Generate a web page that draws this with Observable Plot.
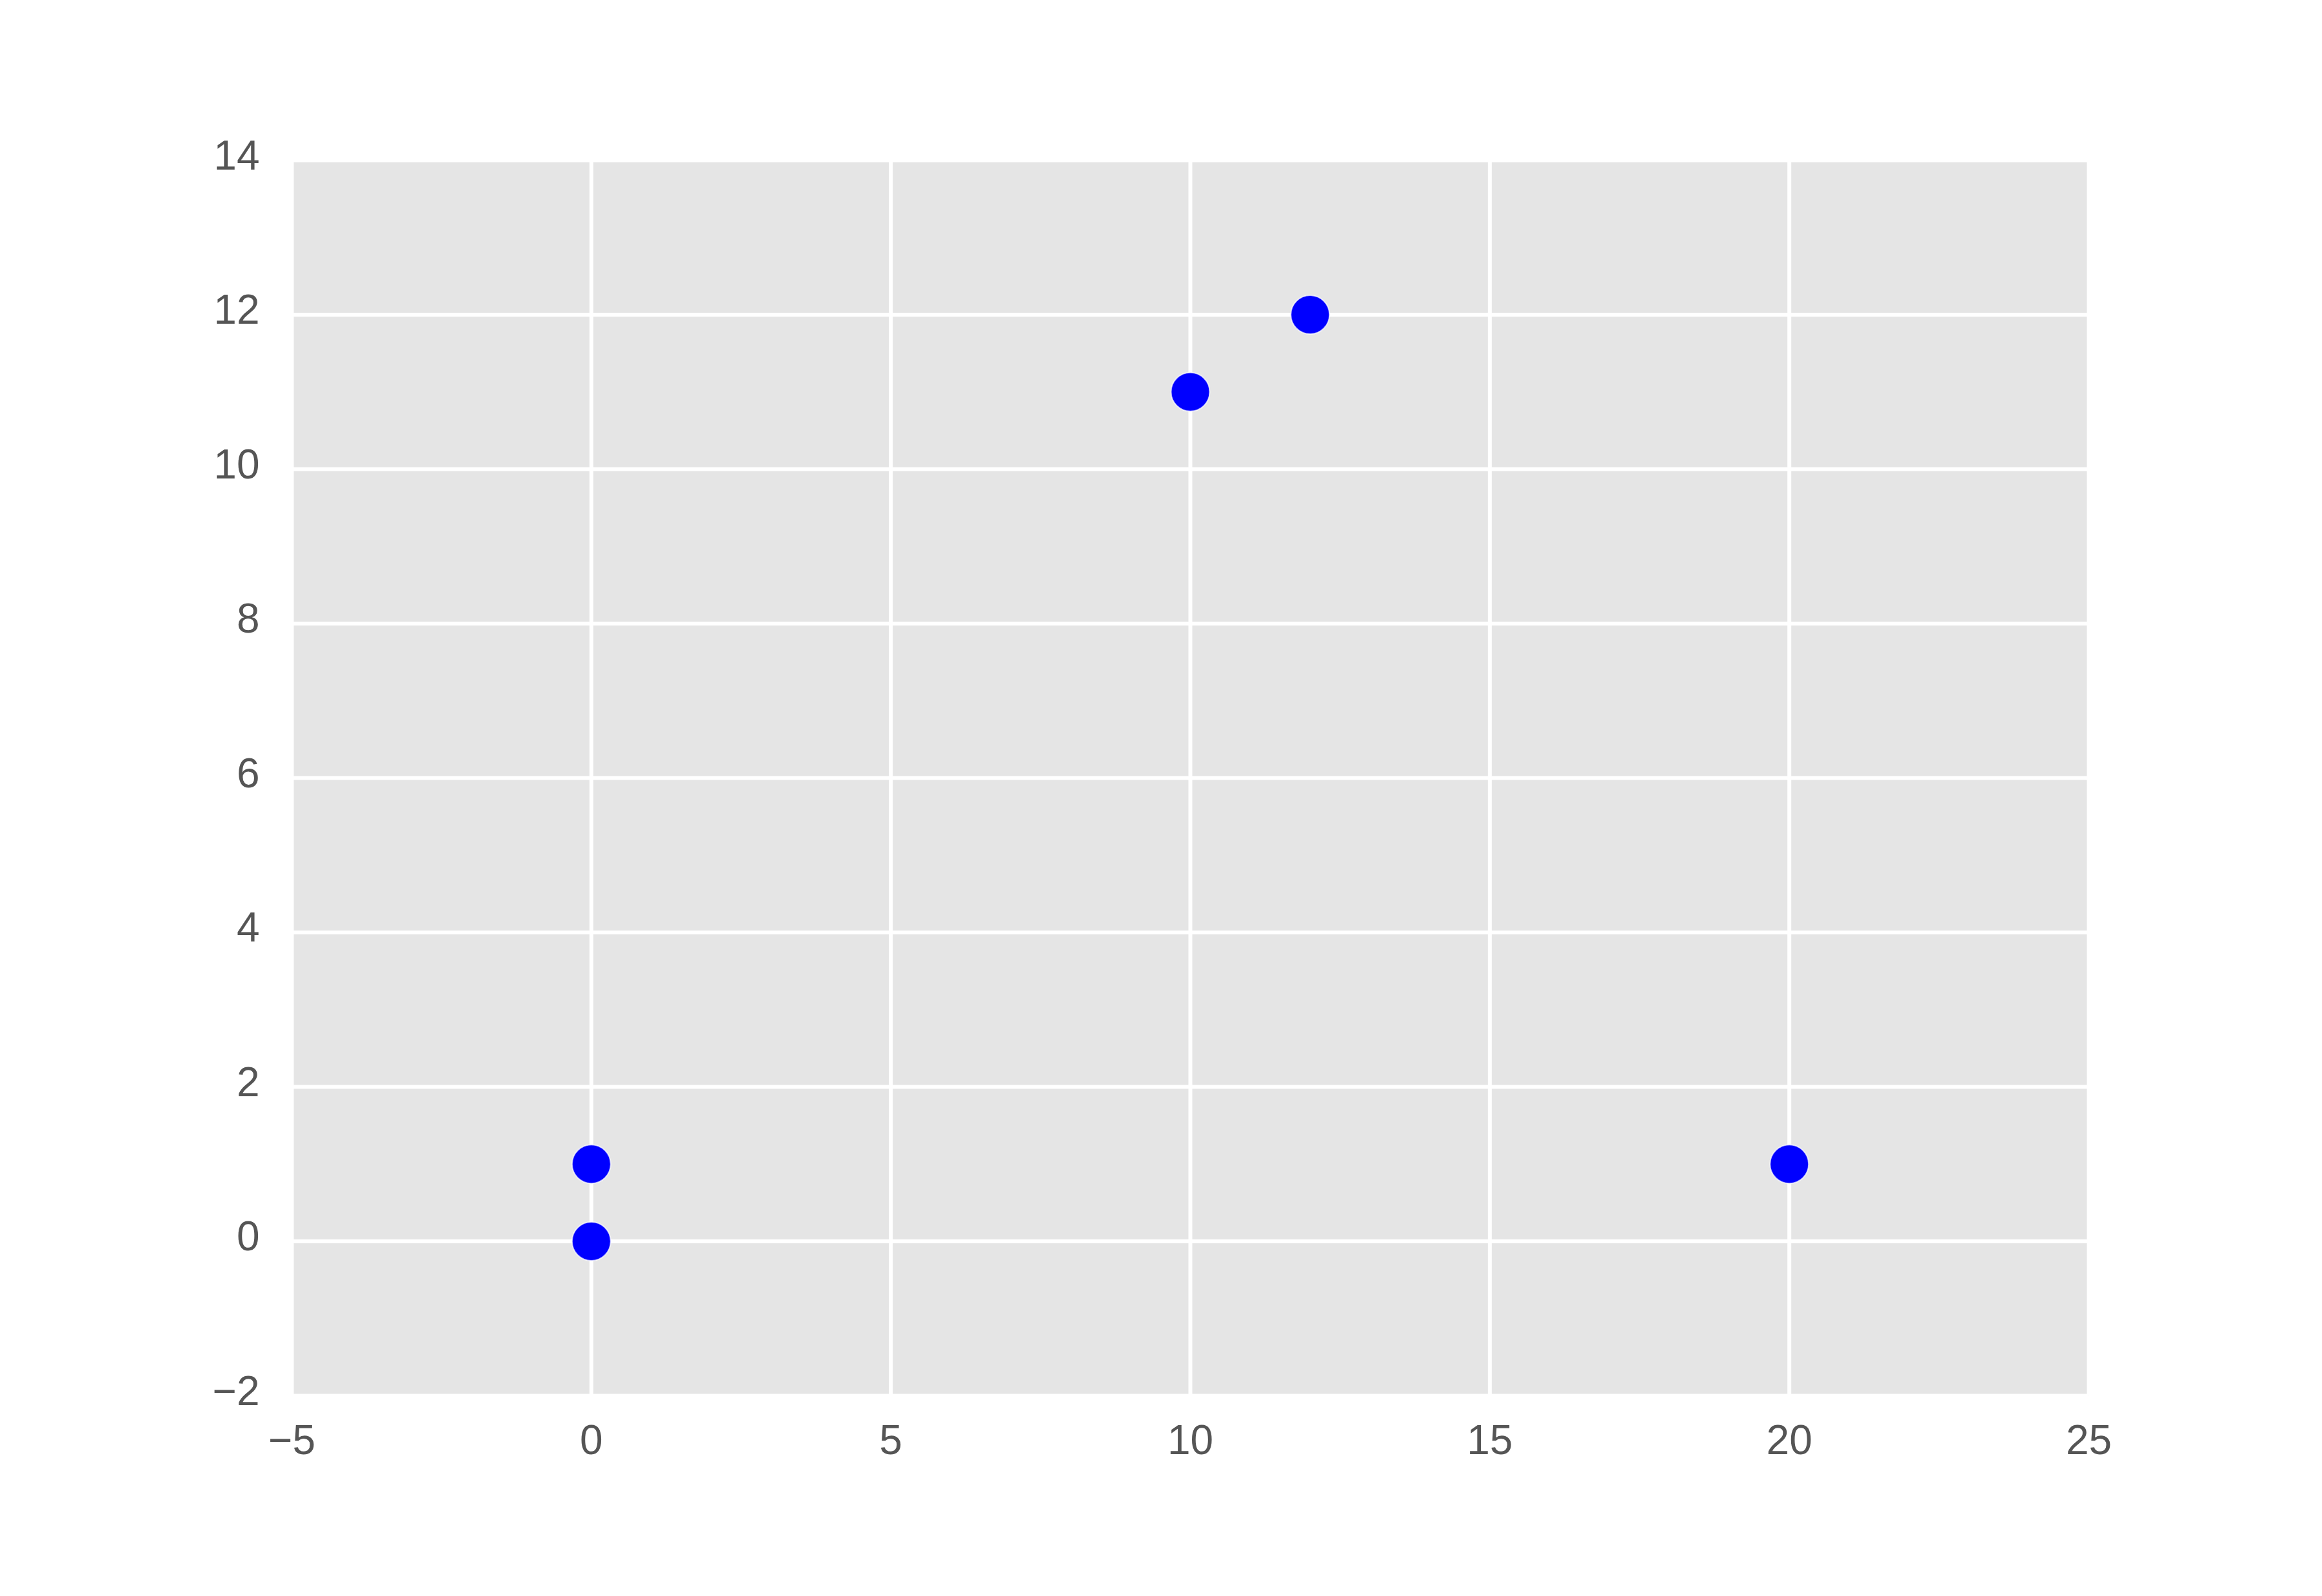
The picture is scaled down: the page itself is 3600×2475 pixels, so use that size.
<!DOCTYPE html>
<html>
<head>
<meta charset="utf-8">
<script src="https://cdn.jsdelivr.net/npm/d3@7"></script>
<script src="https://cdn.jsdelivr.net/npm/@observablehq/plot@0.6"></script>
<style>
  html, body { margin: 0; padding: 0; background: #ffffff; }
  #chart svg { display: block; }
</style>
</head>
<body>
<div id="chart"></div>
<script>
const xValues = [0, 0, 10, 12, 20];
const yValues = [0, 1, 11, 12, 1];
const xTicks = [-5, 0, 5, 10, 15, 20, 25];
const yTicks = [-2, 0, 2, 4, 6, 8, 10, 12, 14];

const points = xValues.map((x, i) => ({x, y: yValues[i]}));
const fmt = d3.format("d");

const chart = Plot.plot({
  width: 3600,
  height: 2475,
  marginLeft: 452,
  marginRight: 362,
  marginTop: 248,
  marginBottom: 311,
  style: {fontFamily: "'Liberation Sans', Arial, sans-serif", fontSize: "64px", color: "#555555", background: "#ffffff"},
  x: {domain: [-5, 25], ticks: xTicks, label: null},
  y: {domain: [-2, 14], ticks: yTicks, label: null},
  marks: [
    Plot.frame({fill: "#e5e5e5", stroke: null}),
    Plot.gridX(xTicks, {stroke: "#ffffff", strokeOpacity: 1, strokeWidth: 6}),
    Plot.gridY(yTicks, {stroke: "#ffffff", strokeOpacity: 1, strokeWidth: 6}),
    Plot.axisX(xTicks, {tickSize: 0, tickPadding: 45, fontSize: 64, fill: "#555555", tickFormat: fmt}),
    Plot.axisY(yTicks, {tickSize: 0, tickPadding: 50, fontSize: 64, fill: "#555555", dy: -6, tickFormat: fmt}),
    Plot.dot(points, {x: "x", y: "y", r: 30, fill: "#0000ff", stroke: "#ffffff", strokeWidth: 2, strokeOpacity: 0.7})
  ]
});
document.getElementById("chart").appendChild(chart);
</script>
</body>
</html>
